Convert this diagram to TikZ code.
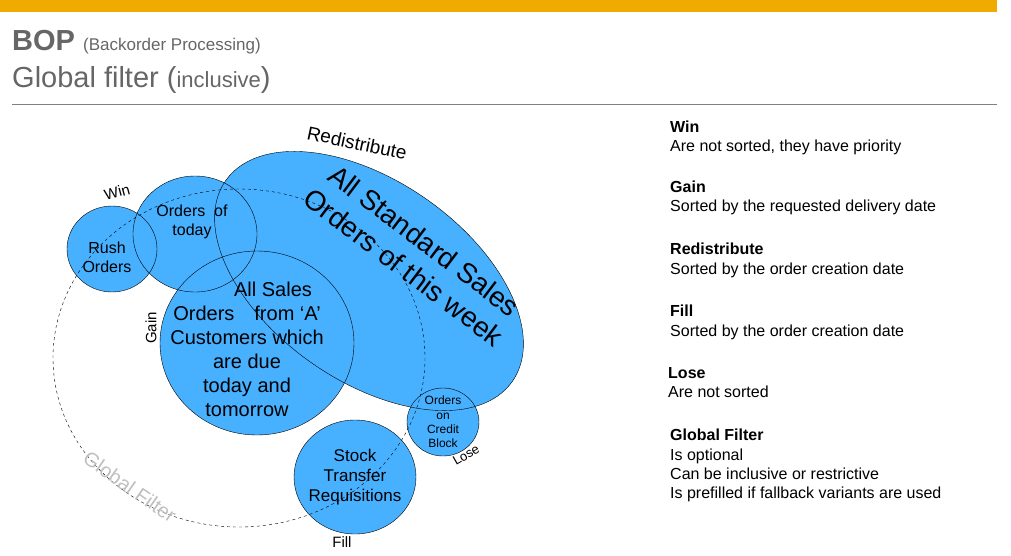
\documentclass[tikz,border=0pt]{standalone}
\usepackage{fontspec}
\setmainfont{Liberation Sans}
\definecolor{sapgold}{HTML}{F0AB00}
\definecolor{setblue}{HTML}{47B0FF}
\definecolor{titlegray}{HTML}{666666}
\newcommand{\fs}[1]{\fontsize{#1}{1.2\dimexpr#1pt\relax}\selectfont}
\tikzset{
  setline/.style={draw=black, thin},
  tag/.style={font=\fs{15}, inner sep=0pt},
  key/.style={anchor=north west, align=left, font=\fs{16}, inner sep=0pt}
}

\begin{document}
\begin{tikzpicture}[x=1pt, y=-1pt]
\useasboundingbox (0,0) rectangle (1011,555);

% header
\fill[sapgold] (0,0) rectangle (997,12);
\node[anchor=base west, text=titlegray, inner sep=0pt] (bop) at (12,50) {\fs{29}\textbf{BOP} \fs{17}(Backorder Processing)};
\node[anchor=base west, text=titlegray, inner sep=0pt] (gf) at (12,87) {\fs{29}Global filter (\fs{22}inclusive\fs{29})};
\draw[gray] (12,104) -- (997,104);

% fills first
\fill[setblue, rotate around={-35:(369,281)}] (369,281) ellipse (175 and 100);
\fill[setblue] (112,249) ellipse (45 and 43);
\fill[setblue] (195,234) ellipse (62 and 58);
\fill[setblue] (257,343) ellipse (97 and 92);
\fill[setblue] (443,422) ellipse (36 and 34);
\fill[setblue] (355,477) ellipse (61 and 57);

% outlines
\draw[setline, rotate around={-35:(369,281)}] (369,281) ellipse (175 and 100);
\draw[setline] (112,249) ellipse (45 and 43);
\draw[setline] (195,234) ellipse (62 and 58);
\draw[setline] (257,343) ellipse (97 and 92);
\draw[setline] (443,422) ellipse (36 and 34);
\draw[setline] (355,477) ellipse (61 and 57);
\draw[dashed] (239,358) ellipse (186 and 169);

% set texts
\node[align=center, font=\fs{28}, rotate=-37, inner sep=0pt] (week) at (414,254) {All Standard Sales\\Orders of this week};
\node[align=center, font=\fs{16}, inner sep=0pt] (rush) at (107,257) {Rush\\Orders};
\node[align=center, font=\fs{16}, inner sep=0pt] (today) at (192,222) {Orders\ \ of\\today};
\node[align=center, font=\fs{20}, inner sep=0pt] (asales) at (247,349) {\hspace*{2.6em}All Sales\\Orders\quad from ‘A’\\Customers which\\are due\\today and\\tomorrow};
\node[align=center, font=\fs{12}, inner sep=0pt] (credit) at (443,422) {Orders\\on\\Credit\\Block};
\node[align=center, font=\fs{17}, inner sep=0pt] (stock) at (355,477) {Stock\\Transfer\\Requisitions};

% ring labels
\node[tag, rotate=15] (win) at (117,192) {Win};
\node[tag, font=\fs{19}, rotate=-12] (redis) at (357,143) {Redistribute};
\node[tag, rotate=90] (gain) at (151,328) {Gain};
\node[tag, font=\fs{13}, rotate=30] (lose) at (466,455) {Lose};
\node[tag] (fill) at (342,542) {Fill};
\node[tag, font=\fs{20}, text=gray!50, rotate=-35] (gfilter) at (130,487) {Global Filter};

% key
\node[key] (kwin) at (670,121) {\textbf{Win}\\Are not sorted, they have priority};
\node[key] (kgain) at (670,181) {\textbf{Gain}\\Sorted by the requested delivery date};
\node[key] (kredis) at (670,243) {\textbf{Redistribute}\\Sorted by the order creation date};
\node[key] (kfill) at (670,305) {\textbf{Fill}\\Sorted by the order creation date};
\node[key] (klose) at (668,367) {\textbf{Lose}\\Are not sorted};
\node[key] (kgf) at (670,429) {\textbf{Global Filter}\\Is optional\\Can be inclusive or restrictive\\Is prefilled if fallback variants are used};

\end{tikzpicture}
\end{document}
